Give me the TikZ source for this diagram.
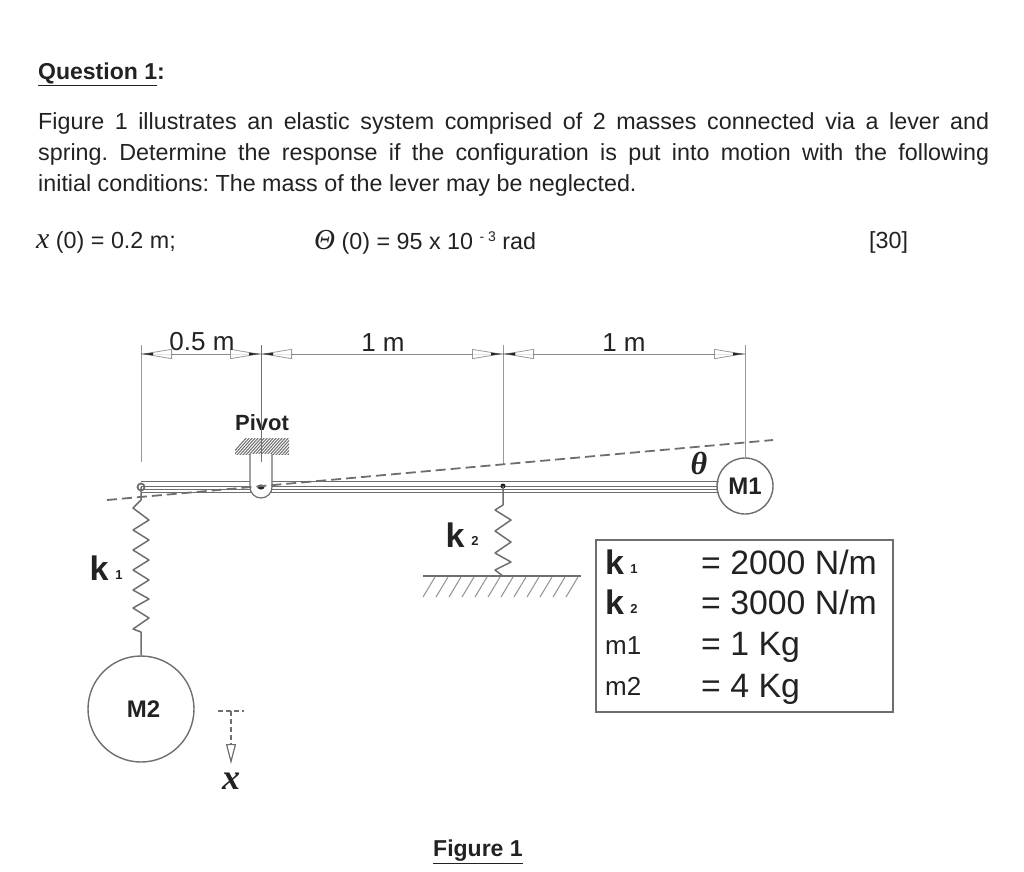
\documentclass[tikz,border=0pt]{standalone}
\usepackage{fontspec}
\setmainfont{Liberation Sans}
\newfontfamily\serifit{Liberation Serif}
\usetikzlibrary{arrows.meta}
\definecolor{ink}{HTML}{222222}
\definecolor{ln}{HTML}{6E6E6E}
\definecolor{ln2}{HTML}{999999}
\frenchspacing
\tikzset{
 txt/.style={anchor=west,inner sep=0pt,text=ink,font=\fontsize{23.3}{27}\selectfont},
 lab/.style={inner sep=0pt,text=ink},
 dim/.style={draw=ln2,line width=0.8pt,{Triangle[open,length=31pt,width=10pt,fill=white]}-{Triangle[open,length=31pt,width=10pt,fill=white]}},
 dimtip/.style={draw=ink,line width=0.01pt,{Latex[length=12pt,width=2.5pt,ink]}-{Latex[length=12pt,width=2.5pt,ink]}},
 ext/.style={draw=ln2,line width=0.8pt},
 spr/.style={draw=ln,line width=1.5pt,line join=round},
 lever/.style={draw=ln,line width=1pt},
 hatch/.style={draw=ln2,line width=1.1pt},
 dashline/.style={draw=ln,line width=1.8pt,dash pattern=on 10pt off 5pt},
 mass/.style={circle,draw=ln,line width=1.4pt,inner sep=0pt,fill=white,text=ink},
 bigk/.style={lab,anchor=base west,font=\fontsize{34}{40}\selectfont\bfseries},
 keyt/.style={lab,anchor=base west,font=\fontsize{33.8}{38}\selectfont},
 keym/.style={lab,anchor=base west,font=\fontsize{26}{30}\selectfont},
 subk/.style={lab,font=\fontsize{13}{15}\selectfont\bfseries},
}
\begin{document}
\begin{tikzpicture}[x=1pt,y=-1pt]
\useasboundingbox (0,0) rectangle (1024,871);
% text
\node[txt,font=\fontsize{23}{27}\selectfont\bfseries] (q) at (38,74) {\underline{Question 1}:};
\node[txt] (l1) at (38,123) {\makebox[951pt][s]{Figure 1 illustrates an elastic system comprised of 2 masses connected via a lever and}};
\node[txt] (l2) at (38,154) {\makebox[951pt][s]{spring. Determine the response if the configuration is put into motion with the following}};
\node[txt] (l3) at (38,185) {initial conditions: The mass of the lever may be neglected.};
\node[txt] (c1) at (36,242) {{\serifit\itshape\fontsize{30}{28}\selectfont x} (0) = 0.2 m;};
\node[txt] (c2) at (314,242) {{\serifit\itshape\fontsize{29}{27}\selectfont Θ} (0) = 95 x 10 \raisebox{8pt}{\fontsize{14}{14}\selectfont - 3} rad};
\node[txt] (c3) at (869,242) {[30]};
\node[txt,font=\fontsize{23}{27}\selectfont\bfseries] (fig) at (433,852) {\underline{Figure 1}};
% anchor coordinates
\coordinate (a0) at (141,354); \coordinate (a1) at (261,354);
\coordinate (a2) at (503,354); \coordinate (a3) at (745,354);
\coordinate (e0t) at (141,345); \coordinate (e0b) at (141,462);
\coordinate (e1t) at (261,345); \coordinate (e1b) at (261,462);
\coordinate (e2t) at (503,345); \coordinate (e2b) at (503,465);
\coordinate (e3t) at (745,345);
\coordinate (pinL) at (141,487); \coordinate (pinP) at (261,487); \coordinate (pinK) at (503,486);
\coordinate (d0) at (107,500); \coordinate (d1) at (773,440);
% dimensions
\draw[ext] (e0t) -- (e0b);
\draw[ext] (e1t) -- (e1b);
\draw[ext] (e2t) -- (e2b);
\draw[dim] (a0) -- (a1);
\draw[dim] (a1) -- (a2);
\draw[dim] (a2) -- (a3);
\path[dimtip] (a0) -- (a1);
\path[dimtip] (a1) -- (a2);
\path[dimtip] (a2) -- (a3);
\node[lab,font=\fontsize{26}{30}\selectfont] (d05) at (202,342) {0.5 m};
\node[lab,font=\fontsize{26}{30}\selectfont] (d1m) at (383,343) {1 m};
\node[lab,font=\fontsize{26}{30}\selectfont] (d2m) at (624,343) {1 m};
% M1 and extension
\node[mass,minimum size=56pt,font=\fontsize{24}{28}\selectfont\bfseries] (m1) at (745,486) {M1};
\draw[ext] (e3t) -- (m1.north);
% lever
\draw[lever] (141,481) -- (719,481);
\draw[lever] (141,486) -- (717,486);
\draw[lever] (141,489) -- (717,489);
\draw[lever] (141,492) -- (719,492);
% pivot
\node[lab,font=\fontsize{22}{27}\selectfont\bfseries] (pv) at (262,423) {Pivot};
\begin{scope}
\clip (235,438) rectangle (289,454);
\foreach \i in {0,3,...,78} \draw[ln,line width=1pt] (230+\i,456) -- (230+\i+18,436);
\end{scope}
\draw[draw=ln,line width=1.2pt,fill=white] (250,454) -- (250,487) arc[start angle=180,end angle=360,x radius=11,y radius=-11] -- (272,454);
\draw[ext,draw=ln] (e1t) -- (e1b);
\fill[ink] (pinP) ellipse[x radius=3.5,y radius=2.5];
\draw[dashline] (d0) -- (d1);
\draw[ln,line width=1.8pt] (pinL) circle[radius=3.5];
\fill[ink] (pinK) circle[radius=2.5];
\node[lab,font=\fontsize{32}{36}\selectfont\serifit\itshape\bfseries] (th) at (699,463) {θ};
% M2 + spring k1
\node[mass,minimum size=106pt,font=\fontsize{24}{28}\selectfont\bfseries] (m2) at (141,709) {\hspace*{5pt}M2};
\draw[spr] (pinL) -- (141,500) -- (133,508) -- (149,520) -- (133,530) -- (149,540) -- (133,550) -- (149,560) -- (133,570) -- (149,580) -- (133,590) -- (149,599) -- (133,608) -- (149,618) -- (133,629) -- (141,632) -- (m2.north);
\node[lab,font=\fontsize{34}{40}\selectfont\bfseries] (k1) at (99,568) {k};
\node[subk] (k1s) at (119,575) {1};
% spring k2
\coordinate (gnd) at (503,576);
\draw[spr] (pinK) -- (503,505) -- (495,510) -- (511,520) -- (495,531) -- (511,542) -- (495,553) -- (511,562) -- (495,570) -- (gnd);
\draw[draw=ln,line width=1.6pt] (423,576) -- (581,576);
\foreach \x in {423,436,...,566} \draw[hatch] (\x+12,577) -- (\x,597);
\node[lab,font=\fontsize{34}{40}\selectfont\bfseries] (k2) at (455,535) {k};
\node[subk] (k2s) at (475,541) {2};
% x arrow
\coordinate (xa) at (231,711); \coordinate (xb) at (231,764);
\coordinate (xl) at (218,711); \coordinate (xr) at (244,711);
\draw[draw=ln,line width=1.2pt,dash pattern=on 5pt off 3pt] (xl) -- (xr);
\draw[draw=ln,line width=1.2pt,dash pattern=on 5pt off 3pt,-{Triangle[open,length=20pt,width=10pt,fill=white]}] (xa) -- (xb);
\node[lab,font=\fontsize{36}{40}\selectfont\serifit\itshape\bfseries] (xx) at (231,781) {x};
% key box
\node[draw=ln,line width=1.2pt,minimum width=297pt,minimum height=172pt,inner sep=0pt] (key) at (744.5,626) {};
\node[bigk] (t1) at (605,574) {k};
\node[subk] (t1s) at (634,569) {1};
\node[keyt] (v1) at (701,574) {= 2000 N/m};
\node[bigk] (t2) at (605,614) {k};
\node[subk] (t2s) at (634,609) {2};
\node[keyt] (v2) at (701,614) {= 3000 N/m};
\node[keym] (t3) at (605,654) {m1};
\node[keyt] (v3) at (701,655) {= 1 Kg};
\node[keym] (t4) at (605,695) {m2};
\node[keyt] (v4) at (701,697) {= 4 Kg};
\end{tikzpicture}
\end{document}
